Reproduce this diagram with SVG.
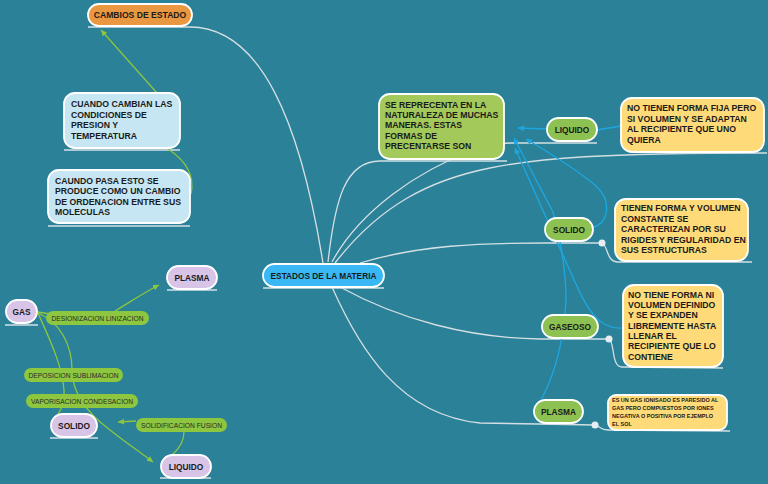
<svg xmlns="http://www.w3.org/2000/svg" width="768" height="484" viewBox="0 0 768 484">
<defs>
<marker id="ab" markerWidth="8" markerHeight="8" refX="6" refY="3" orient="auto" markerUnits="userSpaceOnUse"><path d="M0,0 L6,3 L0,6 z" fill="#1da6e0"/></marker>
<marker id="ag" markerWidth="8" markerHeight="8" refX="6" refY="3" orient="auto" markerUnits="userSpaceOnUse"><path d="M0,0 L6,3 L0,6 z" fill="#8cc63f"/></marker>
<style>
text{font-family:"Liberation Sans",Arial,sans-serif;font-weight:bold;fill:#1a1a1a}
.w{fill:none;stroke:#d4dfe3;stroke-width:1.3}
.b{fill:none;stroke:#1da6e0;stroke-width:1.4}
.g{fill:none;stroke:#8cc63f;stroke-width:1.3}
.n{stroke:#ffffff;stroke-width:1.8}
.dot{fill:#e8eef0}
.t9{font-size:8.6px}
.t8{font-size:8.7px}
.tc{font-size:8.3px}
.t6{font-size:6.7px;font-weight:normal;fill:#2a2a2a}
.t5{font-size:5.5px}
.c{text-anchor:middle}
</style>
</defs>
<rect width="768" height="484" fill="#2a8198"/>

<g id="connectors">
<path class="w" d="M88,27 L190,27 C260,27 300,120 323,263"/>
<path class="w" d="M328,262 C335,200 345,161 380,161 L507,161"/>
<path class="w" d="M332,262 C360,210 420,170 470,152 C490,146 500,143 510,143 L597,143"/>
<path class="w" d="M335,263 C380,205 430,180 490,168 C540,158 600,153 767,153"/>
<path class="w" d="M360,263 C420,245 480,243 545,243 L602,243"/>
<path class="w" d="M602,243 C608,245 606,262 618,262 L752,262"/>
<path class="w" d="M340,287 C400,320 470,338 540,339 L609,339"/>
<path class="w" d="M609,339 C615,342 611,367 622,367 L723,368"/>
<path class="w" d="M332,287 C360,350 400,415 480,423 L595,425"/>
<path class="w" d="M595,425 C600,426 600,430 608,430 L730,431"/>
<path class="w" d="M64,150 L180,150 M48,226 L190,226 M263,288 L384,288"/>
<path class="w" d="M5,325 L38,325 M167,290 L217,290 M50,438 L98,438 M160,478 L211,478"/>
<path class="b" d="M547,129 L518,128" marker-end="url(#ab)"/>
<path class="b" d="M597,130 L621,126"/>
<path class="b" d="M592,228 C610,222 612,200 595,185 C572,166 548,152 526,139" marker-end="url(#ab)"/>
<path class="b" d="M540,402 Q563,360 566,300 Q566,260 553,212 L514,138" marker-end="url(#ab)"/>
<path class="b" d="M622,328 C598,330 585,305 575,282 L515,148" marker-end="url(#ab)"/>
<path class="g" d="M157,93 L101,30" marker-end="url(#ag)"/>
<path class="g" d="M168,149 C185,160 195,175 191,194"/>
<path class="g" d="M38,312 L50,314"/>
<path class="g" d="M115,311 C130,302 145,292 159,285" marker-end="url(#ag)"/>
<path class="g" d="M38,313 C50,340 62,365 64,390 C65,402 62,408 58,414"/>
<path class="g" d="M38,313 C60,322 72,345 72,370 C72,395 90,415 110,430 C125,442 140,452 153,462" marker-end="url(#ag)"/>
<path class="g" d="M136,421 L118,422" marker-end="url(#ag)"/>
<path class="g" d="M172,455 C180,448 184,440 184,432"/>
<circle class="dot" cx="602" cy="243" r="3.5"/>
<circle class="dot" cx="609" cy="339" r="3.5"/>
<circle class="dot" cx="595" cy="425" r="3.5"/>
</g>

<g id="cambios"><rect class="n" x="88" y="4" width="104" height="22" rx="11" fill="#ea9741"/><text class="t9 c" x="140" y="18">CAMBIOS DE ESTADO</text></g>
<g id="cuando"><rect class="n" x="64" y="93" width="116" height="55" rx="11" fill="#c6e6f3"/>
<text class="t8"><tspan x="71" y="107">CUANDO CAMBIAN LAS</tspan><tspan x="71" y="117.5">CONDICIONES DE</tspan><tspan x="71" y="128">PRESION Y</tspan><tspan x="71" y="138.5">TEMPERATURA</tspan></text></g>
<g id="caundo"><rect class="n" x="48" y="170" width="142" height="53" rx="11" fill="#c6e6f3"/>
<text class="t8"><tspan x="55" y="183.5">CAUNDO PASA ESTO SE</tspan><tspan x="55" y="194">PRODUCE COMO UN CAMBIO</tspan><tspan x="55" y="204.5">DE ORDENACION ENTRE SUS</tspan><tspan x="55" y="215">MOLECULAS</tspan></text></g>
<g id="center"><rect class="n" x="263" y="264" width="121" height="23" rx="11.5" fill="#39b8f5"/><text class="tc c" x="323.5" y="278.5">ESTADOS DE LA MATERIA</text></g>
<g id="formas"><rect class="n" x="379" y="94" width="125" height="65" rx="11" fill="#a3c95a"/>
<text class="t8"><tspan x="385" y="107.5">SE REPRECENTA EN LA</tspan><tspan x="385" y="118">NATURALEZA DE MUCHAS</tspan><tspan x="385" y="128.3">MANERAS.  ESTAS</tspan><tspan x="385" y="138.6">FORMAS  DE</tspan><tspan x="385" y="149">PRECENTARSE SON</tspan></text></g>

<g id="liquido"><rect class="n" x="547" y="118" width="50" height="23" rx="11.5" fill="#8dc152"/><text class="tc c" x="572" y="132.5">LIQUIDO</text></g>
<g id="solido"><rect class="n" x="545" y="218" width="48" height="23" rx="11.5" fill="#8dc152"/><text class="tc c" x="569" y="232.5">SOLIDO</text></g>
<g id="gaseoso"><rect class="n" x="542" y="315" width="56" height="23" rx="11.5" fill="#8dc152"/><text class="tc c" x="570" y="329.5">GASEOSO</text></g>
<g id="plasma"><rect class="n" x="534" y="400" width="49" height="23" rx="11.5" fill="#8dc152"/><text class="tc c" x="558.5" y="414.5">PLASMA</text></g>

<g id="liq-desc"><rect class="n" x="621" y="98" width="143" height="54" rx="11" fill="#fedb78"/>
<text class="t8"><tspan x="627" y="111">NO TIENEN FORMA FIJA PERO</tspan><tspan x="627" y="121.5">SI VOLUMEN Y  SE ADAPTAN</tspan><tspan x="627" y="132">AL RECIPIENTE QUE UNO</tspan><tspan x="627" y="142.5">QUIERA</tspan></text></g>
<g id="sol-desc"><rect class="n" x="615" y="199" width="133" height="62" rx="11" fill="#fedb78"/>
<text class="t8"><tspan x="621" y="211">TIENEN FORMA Y VOLUMEN</tspan><tspan x="621" y="221.5">CONSTANTE SE</tspan><tspan x="621" y="232">CARACTERIZAN POR SU</tspan><tspan x="621" y="242.5">RIGIDES Y REGULARIDAD EN</tspan><tspan x="621" y="253">SUS ESTRUCTURAS</tspan></text></g>
<g id="gas-desc"><rect class="n" x="623" y="285" width="100" height="82" rx="11" fill="#fedb78"/>
<text class="t8"><tspan x="628" y="297.5">NO TIENE FORMA NI</tspan><tspan x="628" y="308">VOLUMEN DEFINIDO</tspan><tspan x="628" y="318.3">Y SE EXPANDEN</tspan><tspan x="628" y="328.6">LIBREMENTE HASTA</tspan><tspan x="628" y="339">LLENAR EL</tspan><tspan x="628" y="349.3">RECIPIENTE QUE LO</tspan><tspan x="628" y="359.6">CONTIENE</tspan></text></g>
<g id="pla-desc"><rect class="n" x="608" y="395" width="119" height="35" rx="8" fill="#fedb78"/>
<text class="t5"><tspan x="612" y="401.5">ES UN GAS IONISADO  ES PARESIDO  AL</tspan><tspan x="612" y="409.5">GAS PERO  COMPUESTOS POR IONES</tspan><tspan x="612" y="417.5">NEGATIVA O  POSITIVA  POR EJEMPLO</tspan><tspan x="612" y="425.5">EL SOL</tspan></text></g>

<g id="gas"><rect class="n" x="6" y="300" width="31" height="23" rx="11.5" fill="#d8c4e6"/><text class="tc c" x="21.5" y="314.5">GAS</text></g>
<g id="plasma2"><rect class="n" x="167" y="266" width="50" height="23" rx="11.5" fill="#d8c4e6"/><text class="tc c" x="192" y="280.5">PLASMA</text></g>
<g id="solido2"><rect class="n" x="51" y="414" width="46" height="23" rx="11.5" fill="#d8c4e6"/><text class="tc c" x="74" y="428.5">SOLIDO</text></g>
<g id="liquido2"><rect class="n" x="161" y="455" width="50" height="23" rx="11.5" fill="#d8c4e6"/><text class="tc c" x="186" y="469.5">LIQUIDO</text></g>

<g id="lbl-desion"><rect x="46" y="311" width="103" height="14" rx="7" fill="#8dc63f"/><text class="t6 c" x="97.5" y="320.5">DESIONIZACION LINIZACION</text></g>
<g id="lbl-depos"><rect x="24" y="368" width="99" height="14" rx="7" fill="#8dc63f"/><text class="t6 c" x="73.5" y="377.5">DEPOSICION SUBLIMACION</text></g>
<g id="lbl-vapor"><rect x="26" y="394" width="112" height="14" rx="7" fill="#8dc63f"/><text class="t6 c" x="82" y="403.5">VAPORISACION CONDESACION</text></g>
<g id="lbl-solid"><rect x="136" y="418" width="91" height="14" rx="7" fill="#8dc63f"/><text class="t6 c" x="181.5" y="427.5">SOLIDIFICACION FUSION</text></g>
</svg>
